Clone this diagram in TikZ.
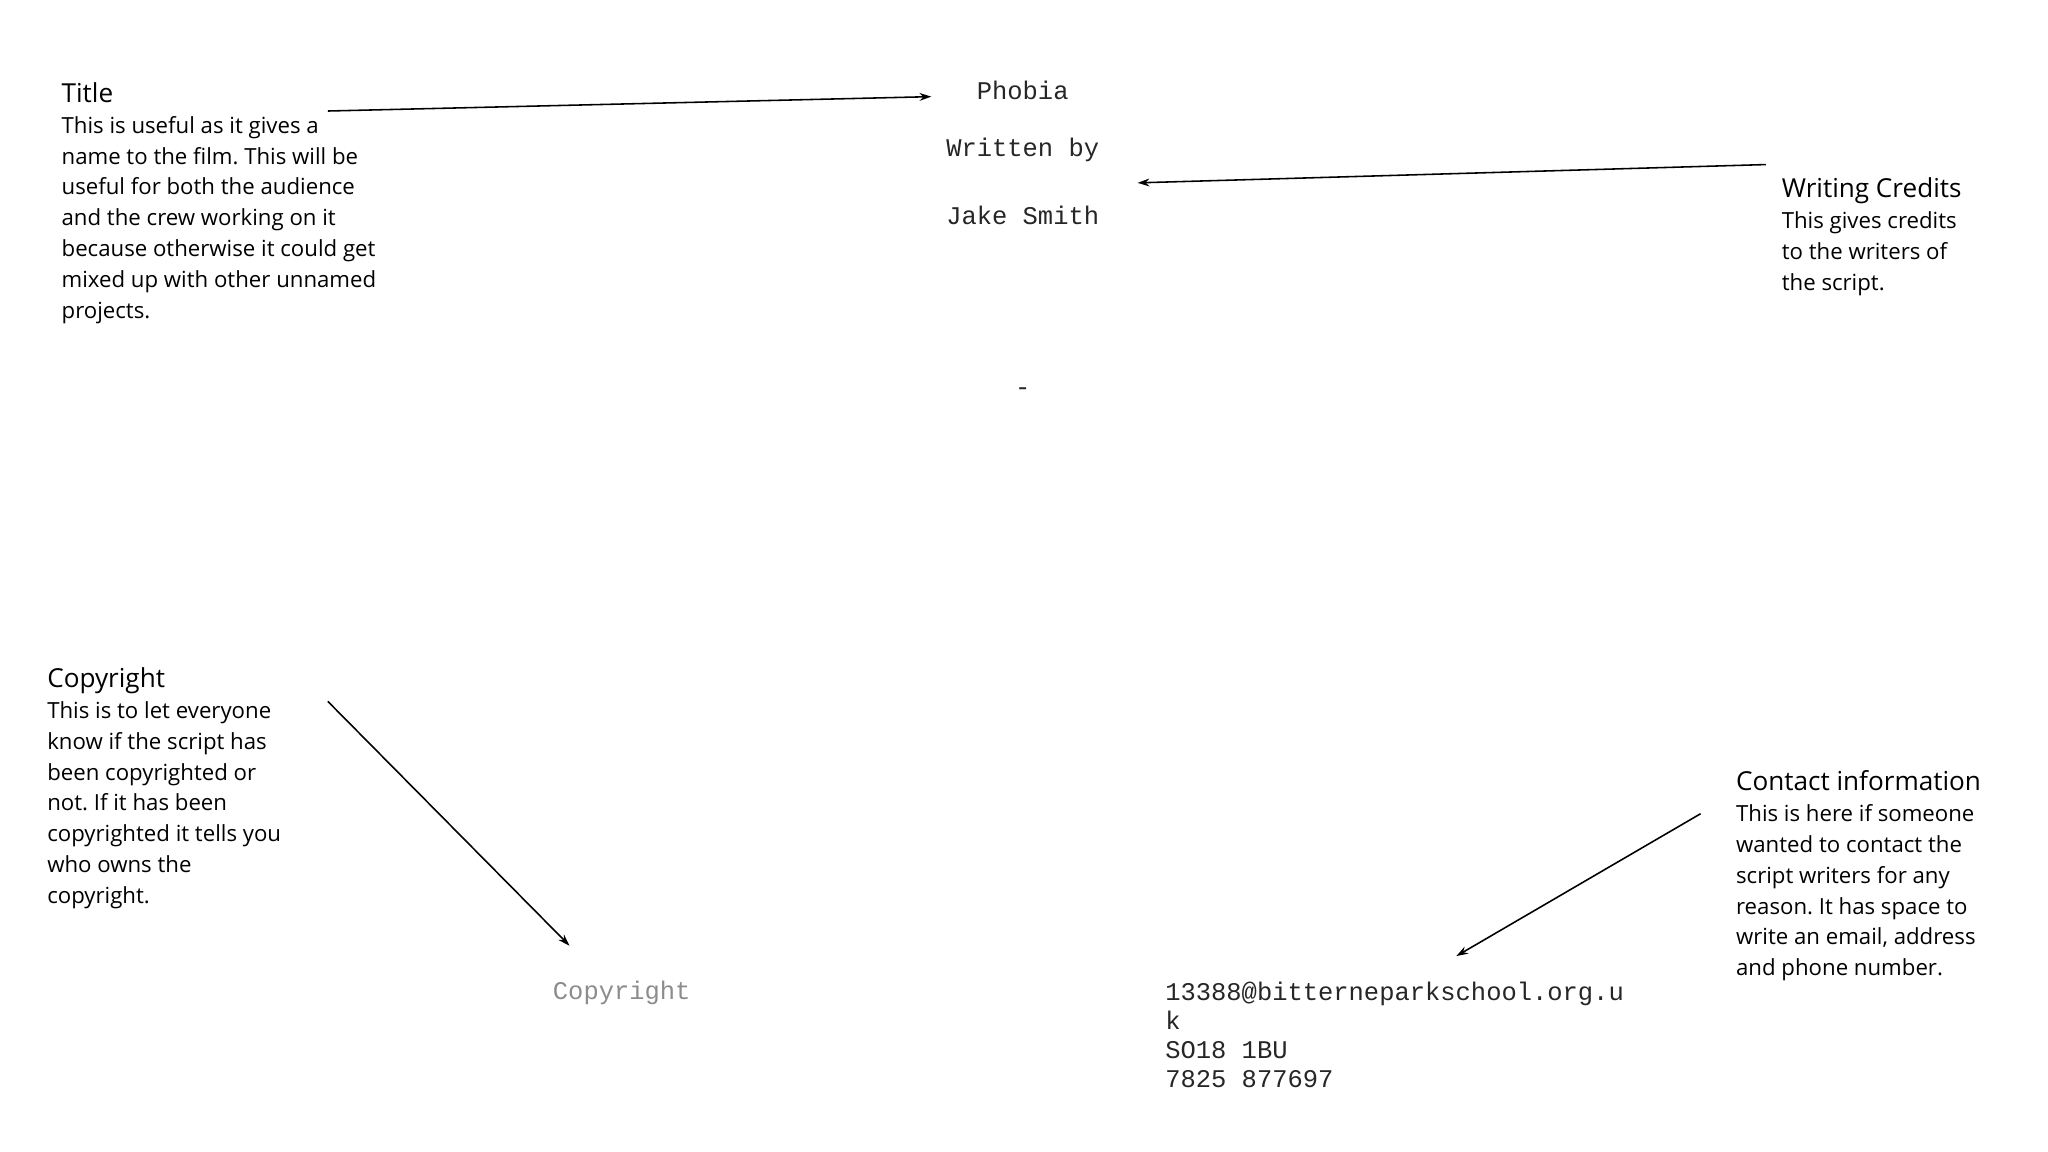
\documentclass[tikz,border=0pt]{standalone}
\usepackage{fontspec}
\setmainfont{Open Sans}
\newfontfamily\cour{Liberation Mono}
\usetikzlibrary{arrows.meta}
\frenchspacing
\begin{document}
\begin{tikzpicture}[x=1pt,y=-1pt,
  note/.style={anchor=north west,align=left,inner sep=0pt,font=\frenchspacing\fontsize{17}{23.6}\selectfont},
  scr/.style={inner sep=0pt,font=\cour\fontsize{19.5}{22}\selectfont,text=black!85},
  arr/.style={-{Stealth[length=9pt,width=6pt]},line width=1.2pt}]
\useasboundingbox (0,0) rectangle (1568,882);
\node[note] (t) at (47,63) {{\fontsize{20}{24}\selectfont Title}\\This is useful as it gives a\\name to the film. This will be\\useful for both the audience\\and the crew working on it\\because otherwise it could get\\mixed up with other unnamed\\projects.};
\node[note] (w) at (1364,136) {{\fontsize{20}{24}\selectfont Writing Credits}\\This gives credits\\to the writers of\\the script.};
\node[note] (c) at (36,511) {{\fontsize{20}{24}\selectfont Copyright}\\This is to let everyone\\know if the script has\\been copyrighted or\\not. If it has been\\copyrighted it tells you\\who owns the\\copyright.};
\node[note] (k) at (1329,590) {{\fontsize{20}{24}\selectfont Contact information}\\This is here if someone\\wanted to contact the\\script writers for any\\reason. It has space to\\write an email, address\\and phone number.};
\node[scr] (p) at (783,69) {Phobia};
\node[scr] (wb) at (783,115) {Written by};
\node[scr] (j) at (783,165) {Jake Smith};
\node[scr] (d) at (783,300) {-};
\node[scr,text=black!45] (cp) at (476,760) {Copyright};
\node[scr,anchor=north west,align=left] (e) at (892,752) {13388@bitterneparkschool.org.u\\k\\SO18 1BU\\7825 877697};
\coordinate (a1) at (251,85); \coordinate (b1) at (713,74);
\coordinate (a2) at (1352,126); \coordinate (b2) at (871,140);
\coordinate (a3) at (251,537); \coordinate (b3) at (436,724);
\coordinate (a4) at (1302,623); \coordinate (b4) at (1115,732);
\draw[arr] (a1) -- (b1);
\draw[arr] (a2) -- (b2);
\draw[arr] (a3) -- (b3);
\draw[arr] (a4) -- (b4);
\end{tikzpicture}
\end{document}
